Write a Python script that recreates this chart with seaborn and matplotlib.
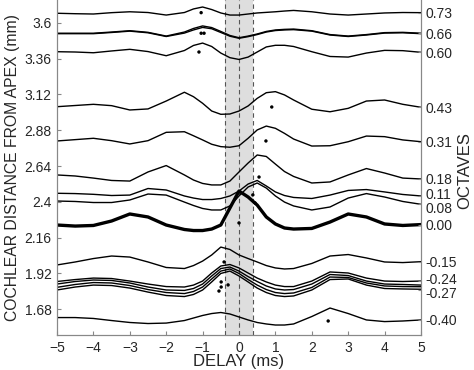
import matplotlib
matplotlib.use("Agg")
import matplotlib.transforms as mtransforms
import seaborn as sns
import matplotlib.pyplot as plt

# delay axis (ms), shared by every trace
DELAY = [-5, -4.5, -4, -3.5, -3, -2.5, -2, -1.5, -1.25, -1, -0.75, -0.5, -0.25, 0,
         0.25, 0.5, 0.75, 1, 1.25, 1.5, 2, 2.5, 3, 3.5, 4, 4.5, 5]

# traces, plotted at cochlear distance (mm)
c_073 = [3.665, 3.662, 3.660, 3.669, 3.675, 3.670, 3.653, 3.670, 3.694, 3.707, 3.690, 3.667, 3.653, 3.653,
         3.660, 3.667, 3.671, 3.675, 3.680, 3.684, 3.675, 3.660, 3.653, 3.660, 3.667, 3.670, 3.669]
c_066a = [3.531, 3.531, 3.531, 3.539, 3.548, 3.537, 3.512, 3.539, 3.563, 3.580, 3.569, 3.543, 3.516, 3.501,
          3.512, 3.526, 3.543, 3.553, 3.557, 3.559, 3.548, 3.522, 3.512, 3.522, 3.535, 3.537, 3.531]
c_066b = [3.528, 3.528, 3.528, 3.536, 3.545, 3.534, 3.509, 3.532, 3.553, 3.570, 3.561, 3.536, 3.511, 3.497,
          3.508, 3.522, 3.539, 3.549, 3.553, 3.555, 3.545, 3.519, 3.509, 3.519, 3.532, 3.534, 3.528]
c_060 = [3.407, 3.405, 3.400, 3.412, 3.423, 3.408, 3.380, 3.415, 3.449, 3.465, 3.442, 3.398, 3.367, 3.355,
         3.371, 3.405, 3.439, 3.450, 3.450, 3.442, 3.407, 3.375, 3.371, 3.398, 3.416, 3.414, 3.403]
c_043 = [3.038, 3.046, 3.054, 3.045, 3.016, 3.023, 3.076, 3.135, 3.105, 3.061, 3.009, 2.987, 2.989, 3.009,
         3.043, 3.094, 3.132, 3.139, 3.117, 3.083, 3.021, 3.004, 3.027, 3.076, 3.083, 3.054, 3.034]
c_031 = [2.808, 2.817, 2.826, 2.810, 2.788, 2.810, 2.866, 2.870, 2.843, 2.815, 2.786, 2.770, 2.766, 2.776,
         2.826, 2.882, 2.908, 2.893, 2.859, 2.821, 2.774, 2.776, 2.803, 2.841, 2.837, 2.815, 2.803]
c_018 = [2.580, 2.573, 2.559, 2.543, 2.539, 2.600, 2.643, 2.580, 2.546, 2.523, 2.513, 2.513, 2.539, 2.600,
         2.660, 2.714, 2.704, 2.653, 2.603, 2.570, 2.526, 2.533, 2.580, 2.623, 2.593, 2.559, 2.553]
c_011 = [2.457, 2.455, 2.450, 2.442, 2.445, 2.489, 2.479, 2.439, 2.425, 2.415, 2.415, 2.422, 2.439, 2.472,
         2.519, 2.543, 2.506, 2.466, 2.442, 2.429, 2.422, 2.445, 2.476, 2.482, 2.466, 2.449, 2.439]
c_008 = [2.405, 2.402, 2.395, 2.395, 2.412, 2.452, 2.445, 2.398, 2.375, 2.355, 2.345, 2.345, 2.372, 2.439,
         2.499, 2.526, 2.492, 2.439, 2.398, 2.372, 2.345, 2.365, 2.425, 2.455, 2.432, 2.402, 2.383]
c_000 = [2.244, 2.237, 2.241, 2.271, 2.318, 2.298, 2.244, 2.214, 2.207, 2.207, 2.217, 2.244, 2.358, 2.472,
         2.432, 2.378, 2.298, 2.251, 2.224, 2.217, 2.221, 2.264, 2.318, 2.298, 2.251, 2.241, 2.247]
c_m015 = [1.976, 1.996, 2.019, 2.036, 2.029, 1.996, 1.959, 1.952, 1.972, 2.002, 2.043, 2.096, 2.080, 2.043,
          2.019, 1.996, 1.972, 1.956, 1.949, 1.952, 1.986, 2.036, 2.046, 2.023, 1.996, 1.992, 1.998]
c_m024a = [1.865, 1.878, 1.888, 1.885, 1.868, 1.848, 1.831, 1.828, 1.841, 1.868, 1.922, 1.969, 1.979, 1.956,
           1.922, 1.888, 1.862, 1.841, 1.831, 1.831, 1.868, 1.929, 1.922, 1.888, 1.868, 1.865, 1.868]
c_m024b = [1.848, 1.865, 1.875, 1.872, 1.855, 1.828, 1.808, 1.805, 1.818, 1.848, 1.902, 1.952, 1.962, 1.935,
           1.898, 1.865, 1.835, 1.815, 1.808, 1.811, 1.848, 1.912, 1.905, 1.868, 1.848, 1.845, 1.841]
c_m027a = [1.826, 1.845, 1.858, 1.855, 1.838, 1.811, 1.791, 1.784, 1.798, 1.828, 1.882, 1.935, 1.949, 1.919,
           1.878, 1.841, 1.811, 1.791, 1.784, 1.788, 1.825, 1.895, 1.892, 1.855, 1.835, 1.831, 1.830]
c_m027b = [1.808, 1.828, 1.841, 1.838, 1.821, 1.794, 1.771, 1.764, 1.778, 1.808, 1.862, 1.919, 1.935, 1.902,
           1.862, 1.821, 1.791, 1.771, 1.764, 1.768, 1.808, 1.878, 1.882, 1.841, 1.818, 1.815, 1.813]
c_m040 = [1.623, 1.623, 1.617, 1.603, 1.590, 1.583, 1.586, 1.603, 1.620, 1.637, 1.650, 1.657, 1.647, 1.627,
          1.607, 1.590, 1.580, 1.573, 1.573, 1.580, 1.630, 1.687, 1.650, 1.607, 1.596, 1.600, 1.607]

# best-delay markers (ms, mm)
DOT_X = [-1.04, -1.04, -0.96, -1.10, 0.90, 0.74, 0.55, 0.38, 0.44, 0.0, -0.41,
         -0.49, -0.30, -0.49, -0.55, 2.45]
DOT_Y = [3.669, 3.531, 3.531, 3.405, 3.036, 2.808, 2.566, 2.446, 2.392, 2.258, 1.996,
         1.862, 1.842, 1.828, 1.801, 1.600]

# left axis (mm) and right axis (octaves)
MM_TICKS = [1.68, 1.92, 2.16, 2.4, 2.64, 2.88, 3.12, 3.36, 3.6]
MM_LABELS = ["1.68", "1.92", "2.16", "2.4", "2.64", "2.88", "3.12", "3.36", "3.6"]
OCT_POS = [3.669, 3.531, 3.403, 3.034, 2.803, 2.553, 2.439, 2.383, 2.247, 1.998, 1.868, 1.808, 1.607]
OCT_LABELS = ["0.73", "0.66", "0.60", "0.43", "0.31", "0.18", "0.11", "0.08", "0.00",
              "-0.15", "-0.24", "-0.27", "-0.40"]

sns.set_style("ticks")
plt.rcParams["font.family"] = ["Liberation Sans", "DejaVu Sans"]

fig = plt.figure(figsize=(4.74, 3.70), dpi=100)
ax = fig.add_axes([57 / 474, 35 / 370, 364 / 474, 335 / 370])

# shaded window around zero delay
ax.axvspan(-0.39, 0.39, color="#dedede", lw=0, zorder=0)
for xv in [-0.39, 0, 0.39]:
    ax.axvline(xv, color="#555555", lw=0.8, ls=(0, (4, 3)), zorder=1)

traces = [c_073, c_066a, c_066b, c_060, c_043, c_031, c_018, c_011, c_008,
          c_000, c_m015, c_m024a, c_m024b, c_m027a, c_m027b, c_m040]
for tr in traces:
    lw = 2.4 if tr is c_000 else 1.0
    sns.lineplot(x=DELAY, y=tr, ax=ax, color="black", lw=lw, zorder=3)

sns.scatterplot(x=DOT_X, y=DOT_Y, ax=ax, color="black", s=6, edgecolor="none", zorder=4)

ax.set_xlim(-5, 5)
ax.set_ylim(1.506, 3.754)
ax.set_xticks(range(-5, 6))
ax.set_yticks(MM_TICKS)
ax.set_yticklabels(MM_LABELS)
ax.tick_params(direction="in", length=3, labelsize=10, color="#888888", pad=4)
ax.tick_params(axis="x", pad=4)
ax.spines["top"].set_visible(False)
for s in ["left", "right", "bottom"]:
    ax.spines[s].set_color("#888888")

ax.set_xlabel("DELAY (ms)", fontsize=12)
ax.xaxis.set_label_coords(0.5, -0.058)
ax.set_ylabel("COCHLEAR DISTANCE FROM APEX (mm)", fontsize=11.3)
ax.yaxis.set_label_coords(-0.103, 0.5)

ax2 = ax.twinx()
ax2.set_ylim(ax.get_ylim())
ax2.set_yticks(OCT_POS)
ax2.set_yticklabels(OCT_LABELS)
ax2.tick_params(direction="in", length=2, labelsize=10, color="#888888", pad=3)
ax2.spines["top"].set_visible(False)
for s in ["left", "right", "bottom"]:
    ax2.spines[s].set_color("#888888")
ax2.set_ylabel("OCTAVES", fontsize=12)
ax2.yaxis.set_label_coords(1.1, 0.49)

# crowded labels on the right: spread the close pairs a little
nudge = {"0.11": 2, "0.08": -2, "-0.24": 1.5, "-0.27": -1.5}
for lab in ax2.get_yticklabels():
    dy = nudge.get(lab.get_text(), 0)
    if dy:
        lab.set_transform(lab.get_transform() + mtransforms.ScaledTranslation(0, dy / 72, fig.dpi_scale_trans))

fig.savefig("out.png", dpi=100)
